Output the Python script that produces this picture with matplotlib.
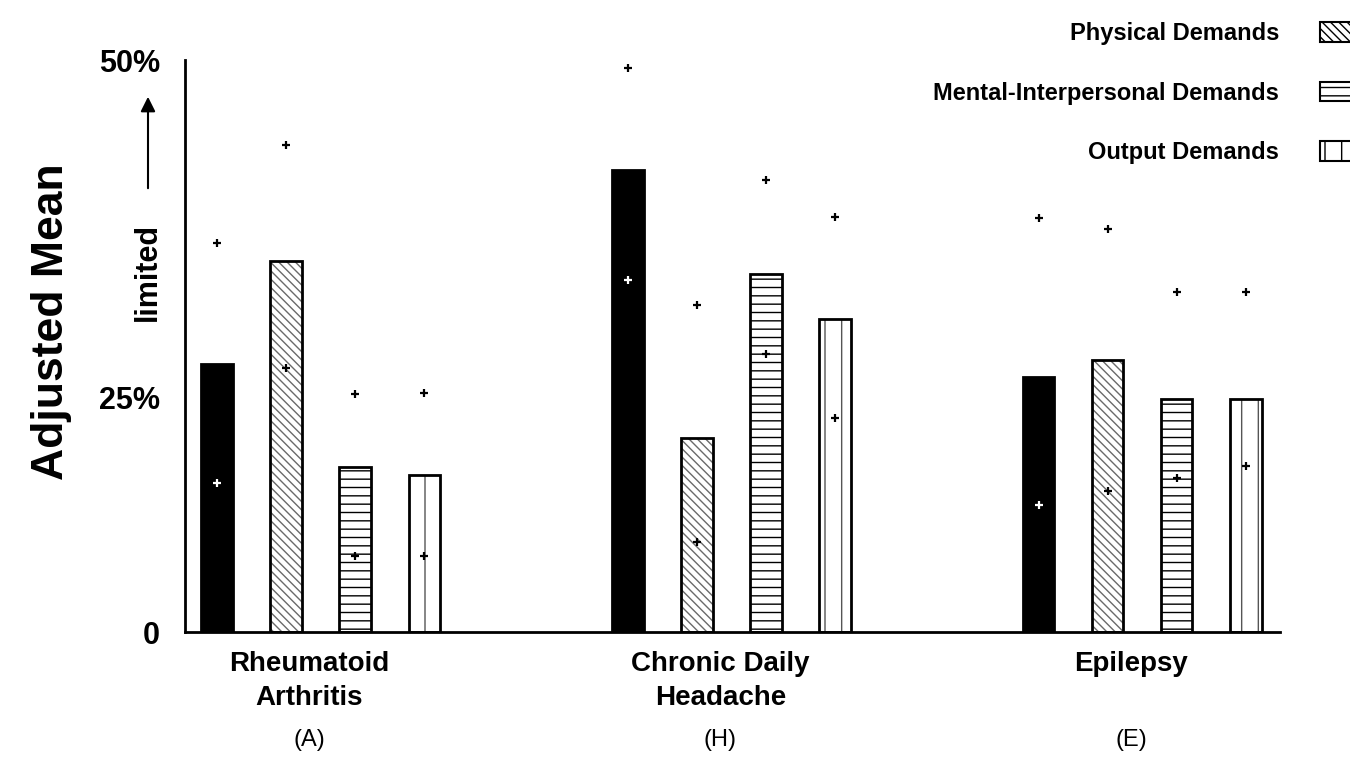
import numpy as np
import matplotlib
matplotlib.use("Agg")
import matplotlib.pyplot as plt
from matplotlib.patches import Patch

plt.rcParams['font.family'] = ['Liberation Sans', 'DejaVu Sans']
plt.rcParams['hatch.linewidth'] = 1.0

# Daten
groups = ["Rheumatoid\nArthritis", "Chronic Daily\nHeadache", "Epilepsy"]
group_tags = ["(A)", "(H)", "(E)"]
series = ["Total", "Physical Demands", "Mental-Interpersonal Demands", "Output Demands"]

means = [
    [23.4, 40.4, 22.3],   # total (black)
    [32.4, 17.0, 23.8],   # physical
    [14.4, 31.3, 20.4],   # mental-interpersonal
    [13.7, 27.4, 20.4],   # output
]
upper = [
    [34.0, 49.3, 36.2],
    [42.6, 28.6, 35.2],
    [20.8, 39.5, 29.7],
    [20.9, 36.3, 29.7],
]
lower = [
    [13.0, 30.8, 11.1],
    [23.1, 7.9, 12.3],
    [6.6, 24.3, 13.5],
    [6.6, 18.7, 14.5],
]

ytick_pos = [0, 20.5, 50]
ytick_labels = ["0", "25%", "50%"]

# Stil
hatches = [None, "\\\\\\\\", "--", "|"]
hatch_cols = ["black", "#6a6a6a", "black", "#555555"]
faces = ["black", "white", "white", "white"]
step = 0.168
width = 0.076

fig = plt.figure(figsize=(13.5, 7.62), dpi=100)
ax = fig.add_axes([185/1350, 130/762, 1095/1350, 572/762])

x = np.arange(len(groups))
for i in range(len(series)):
    xi = x + (i - 1.5) * step
    # Schraffur zuerst, dann der Rahmen drueber
    ax.bar(xi, means[i], width=width, color=faces[i], edgecolor=hatch_cols[i],
           linewidth=0, hatch=hatches[i], zorder=2)
    ax.bar(xi, means[i], width=width, fill=False, edgecolor="black",
           linewidth=2, zorder=2.5)
    ax.plot(xi, upper[i], linestyle="none", marker="+", markersize=6,
            mew=1.6, color="black", zorder=3)
    low_col = "white" if faces[i] == "black" else "black"
    ax.plot(xi, lower[i], linestyle="none", marker="+", markersize=6,
            mew=1.6, color=low_col, zorder=3)

ax.set_xlim(-0.33, 2.335)
ax.set_ylim(0, 50)
ax.spines['top'].set_visible(False)
ax.spines['right'].set_visible(False)
ax.spines['left'].set_linewidth(2)
ax.spines['bottom'].set_linewidth(2)

ax.set_yticks(ytick_pos)
ax.set_yticklabels(ytick_labels, fontsize=22, fontweight="bold")
ax.tick_params(axis="y", length=0, pad=18)

ax.set_xticks(x - 0.027)
ax.set_xticklabels(groups, fontsize=20, fontweight="bold", linespacing=1.4)
ax.tick_params(axis="x", length=0, pad=14)
for xx, tag in zip(x, group_tags):
    ax.text(xx - 0.027, -0.188, tag, transform=ax.get_xaxis_transform(),
            ha="center", va="center", fontsize=17)

# Achsenbeschriftung
fig.text(52/1350, 1 - 322/762, "Adjusted Mean", rotation=90, ha="center",
         va="center", fontsize=32, fontweight="bold")
fig.text(148/1350, 1 - 272/762, "limited", rotation=90, ha="center",
         va="center", fontsize=22, fontweight="bold")
ax.annotate("", xy=(148/1350, 1 - 94/762), xytext=(148/1350, 1 - 191/762),
            xycoords="figure fraction", textcoords="figure fraction",
            arrowprops=dict(arrowstyle="-|>", color="black", lw=1.5,
                            mutation_scale=22))

# Legende
handles = [Patch(facecolor="white", edgecolor="black", hatch=hatches[i],
                 linewidth=1.5) for i in range(1, 4)]
fig.legend(handles, series[1:], loc="upper right",
           bbox_to_anchor=(1362/1350, 1 - 22/762), bbox_transform=fig.transFigure,
           frameon=False, markerfirst=False, handlelength=1.8,
           handleheight=0.9, handletextpad=1.7, labelspacing=1.55,
           borderpad=0, borderaxespad=0,
           prop=dict(size=17, weight="bold"))

fig.savefig("out.png", dpi=100)
